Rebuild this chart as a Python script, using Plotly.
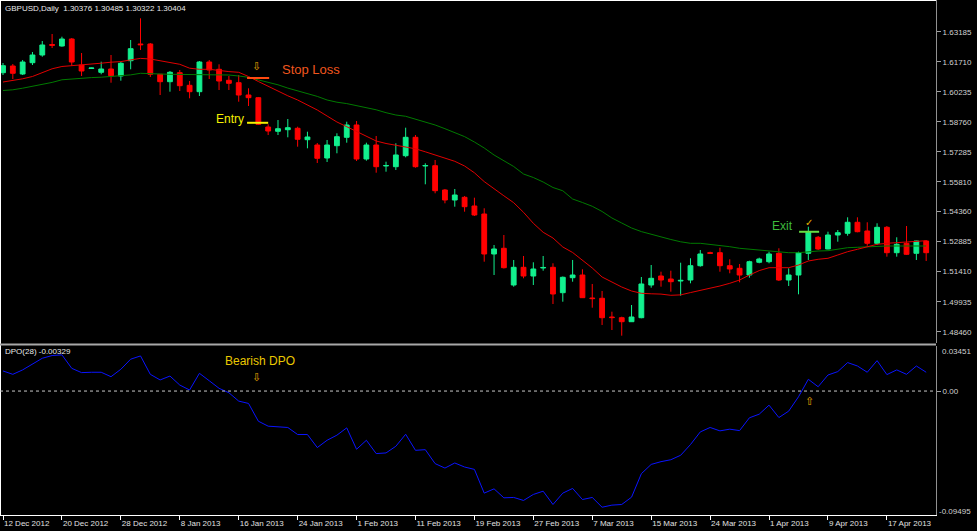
import plotly.graph_objects as go

# ---------------- data ----------------
bars = list(range(95))

open_ = [1.61173, 1.61502, 1.61109, 1.61664, 1.62042, 1.62557, 1.62484, 1.62827, 1.61551, 1.61379,
         1.61193, 1.61355, 1.61011, 1.61762, 1.62582, 1.62582, 1.61095, 1.60732, 1.61173, 1.60555,
         1.60241, 1.61698, 1.61340, 1.60800, 1.60682, 1.60079, 1.59947, 1.58508, 1.58297, 1.58376,
         1.58445, 1.57885, 1.57625, 1.56987, 1.57591, 1.58003, 1.58607, 1.56938, 1.57625, 1.56595,
         1.56560, 1.57100, 1.58003, 1.56595, 1.56609, 1.55417, 1.54926, 1.55058, 1.54632, 1.54239,
         1.52276, 1.52556, 1.50754, 1.51623, 1.51196, 1.51589, 1.51623, 1.50377, 1.51113, 1.51245,
         1.50117, 1.50102, 1.49184, 1.49150, 1.48953, 1.49150, 1.50754, 1.51196, 1.51049, 1.50951,
         1.51000, 1.51702, 1.52340, 1.52340, 1.51702, 1.51574, 1.51245, 1.51869, 1.51898, 1.52310,
         1.51000, 1.51245, 1.52310, 1.53096, 1.52522, 1.53208, 1.53292, 1.53832, 1.53405, 1.52801,
         1.53586, 1.52340, 1.52801, 1.52310, 1.52914]

high = [1.61649, 1.61600, 1.61797, 1.62189, 1.62729, 1.63072, 1.62940, 1.62876, 1.62140, 1.61420,
        1.61713, 1.62042, 1.61713, 1.62778, 1.63843, 1.62631, 1.61109, 1.61257, 1.61306, 1.60766,
        1.61747, 1.61797, 1.61585, 1.61011, 1.61060, 1.60408, 1.59981, 1.58641, 1.58851, 1.58901,
        1.58523, 1.58278, 1.57723, 1.57871, 1.58199, 1.58769, 1.58803, 1.57738, 1.58067, 1.56806,
        1.57708, 1.58474, 1.58116, 1.56727, 1.56889, 1.55466, 1.55466, 1.55122, 1.55039, 1.54519,
        1.52718, 1.53208, 1.51982, 1.52178, 1.51869, 1.52178, 1.51820, 1.51172, 1.51982, 1.51525,
        1.50804, 1.50461, 1.49444, 1.49199, 1.49773, 1.51147, 1.51736, 1.51407, 1.51456, 1.51849,
        1.52065, 1.52472, 1.52389, 1.52585, 1.52016, 1.51785, 1.51947, 1.52095, 1.52389, 1.52556,
        1.51574, 1.52389, 1.53616, 1.53160, 1.53370, 1.53454, 1.54077, 1.54077, 1.53832, 1.53783,
        1.53650, 1.53096, 1.53650, 1.52929, 1.52963]

low = [1.61060, 1.60864, 1.61060, 1.61551, 1.61958, 1.62385, 1.62449, 1.61502, 1.61011, 1.61370,
       1.61095, 1.60682, 1.60781, 1.61340, 1.62287, 1.60962, 1.60079, 1.60241, 1.60275, 1.59917,
       1.60030, 1.60864, 1.60324, 1.60324, 1.59750, 1.59539, 1.58607, 1.58116, 1.58116, 1.58003,
       1.57542, 1.57463, 1.56742, 1.56791, 1.57218, 1.57738, 1.56840, 1.56855, 1.56266, 1.56315,
       1.56399, 1.57021, 1.56511, 1.55697, 1.55255, 1.54764, 1.54597, 1.54352, 1.54141, 1.51898,
       1.51245, 1.51564, 1.50671, 1.51083, 1.50754, 1.51456, 1.49822, 1.49935, 1.50917, 1.50117,
       1.49640, 1.48792, 1.48546, 1.48267, 1.48939, 1.49121, 1.50622, 1.50671, 1.50426, 1.50230,
       1.50838, 1.51653, 1.52276, 1.51407, 1.51329, 1.50887, 1.51113, 1.51820, 1.51820, 1.50951,
       1.50706, 1.50298, 1.51982, 1.52472, 1.52507, 1.52880, 1.53174, 1.53341, 1.52683, 1.52718,
       1.52144, 1.52144, 1.52227, 1.51982, 1.51933]

close = [1.61517, 1.61144, 1.61698, 1.62042, 1.62533, 1.62518, 1.62827, 1.61698, 1.61257, 1.61404,
         1.61355, 1.61026, 1.61635, 1.62351, 1.62547, 1.61095, 1.60732, 1.61193, 1.60535, 1.60241,
         1.61698, 1.61306, 1.60766, 1.60653, 1.60079, 1.59947, 1.58641, 1.58312, 1.58425, 1.58474,
         1.57905, 1.58018, 1.56972, 1.57625, 1.58033, 1.58607, 1.56938, 1.57625, 1.56560, 1.56619,
         1.57135, 1.58003, 1.56560, 1.56619, 1.55382, 1.54926, 1.55171, 1.54597, 1.54190, 1.52276,
         1.52522, 1.51604, 1.51623, 1.51196, 1.51540, 1.51614, 1.50313, 1.51133, 1.51245, 1.50132,
         1.50087, 1.49150, 1.49155, 1.48953, 1.49184, 1.50804, 1.51083, 1.51000, 1.50917, 1.50981,
         1.51702, 1.52276, 1.52310, 1.51702, 1.51540, 1.51245, 1.51898, 1.52031, 1.52276, 1.51000,
         1.51245, 1.52340, 1.53341, 1.52522, 1.53208, 1.53321, 1.53832, 1.53370, 1.52801, 1.53586,
         1.52340, 1.52752, 1.52261, 1.52914, 1.52340]

ma_fast = [1.60717, 1.60781, 1.60874, 1.60987, 1.61183, 1.61365, 1.61478, 1.61512, 1.61556, 1.61590,
           1.61640, 1.61689, 1.61718, 1.61801, 1.61875, 1.61846, 1.61762, 1.61664, 1.61586, 1.61394,
           1.61340, 1.61340, 1.61276, 1.61227, 1.61193, 1.60987, 1.60741, 1.60496, 1.60285, 1.60040,
           1.59834, 1.59588, 1.59343, 1.59048, 1.58754, 1.58523, 1.58283, 1.58052, 1.57821, 1.57699,
           1.57610, 1.57542, 1.57439, 1.57291, 1.57134, 1.56972, 1.56825, 1.56595, 1.56261, 1.55829,
           1.55466, 1.55132, 1.54794, 1.54322, 1.53783, 1.53341, 1.53061, 1.52620, 1.52350, 1.51982,
           1.51589, 1.51147, 1.50902, 1.50656, 1.50460, 1.50347, 1.50323, 1.50308, 1.50249, 1.50269,
           1.50382, 1.50480, 1.50593, 1.50706, 1.50838, 1.51000, 1.51241, 1.51461, 1.51604, 1.51604,
           1.51604, 1.51736, 1.51932, 1.52016, 1.52065, 1.52227, 1.52389, 1.52507, 1.52639, 1.52752,
           1.52801, 1.52831, 1.52850, 1.52914, 1.52929]

ma_slow = [1.60300, 1.60334, 1.60413, 1.60496, 1.60579, 1.60697, 1.60825, 1.60869, 1.60903, 1.60933,
           1.60952, 1.60982, 1.61016, 1.61065, 1.61144, 1.61144, 1.61109, 1.61095, 1.61095, 1.61060,
           1.61060, 1.61090, 1.61095, 1.61060, 1.61011, 1.60948, 1.60820, 1.60707, 1.60579, 1.60418,
           1.60285, 1.60167, 1.60010, 1.59834, 1.59726, 1.59657, 1.59554, 1.59465, 1.59353, 1.59210,
           1.59097, 1.59034, 1.58901, 1.58754, 1.58607, 1.58425, 1.58239, 1.58037, 1.57772, 1.57478,
           1.57134, 1.56840, 1.56570, 1.56202, 1.56030, 1.55809, 1.55539, 1.55378, 1.54975, 1.54803,
           1.54617, 1.54362, 1.54043, 1.53797, 1.53552, 1.53375, 1.53233, 1.53125, 1.52988, 1.52875,
           1.52801, 1.52801, 1.52752, 1.52683, 1.52634, 1.52556, 1.52507, 1.52472, 1.52438, 1.52359,
           1.52340, 1.52340, 1.52389, 1.52423, 1.52438, 1.52507, 1.52585, 1.52605, 1.52634, 1.52669,
           1.52669, 1.52669, 1.52669, 1.52669, 1.52669]

dpo = [0.0154, 0.0128, 0.0162, 0.0205, 0.0251, 0.0272, 0.0277, 0.0174, 0.0141, 0.0144,
       0.0144, 0.0110, 0.0167, 0.0244, 0.0269, 0.0128, 0.0085, 0.0115, 0.0046, 0.0008,
       0.0136, 0.0079, 0.0021, -0.0013, -0.0077, -0.0095, -0.0231, -0.0269, -0.0274, -0.0279,
       -0.0333, -0.0333, -0.0433, -0.0377, -0.0338, -0.0282, -0.0446, -0.0377, -0.0479, -0.0474,
       -0.0423, -0.0331, -0.0454, -0.0449, -0.0556, -0.0590, -0.0551, -0.0582, -0.0600, -0.0782,
       -0.0749, -0.0818, -0.0815, -0.0838, -0.0792, -0.0767, -0.0869, -0.0782, -0.0746, -0.0831,
       -0.0815, -0.0890, -0.0874, -0.0869, -0.0813, -0.0633, -0.0562, -0.0541, -0.0526, -0.0492,
       -0.0410, -0.0313, -0.0279, -0.0305, -0.0292, -0.0303, -0.0205, -0.0177, -0.0108, -0.0203,
       -0.0154, -0.0044, 0.0090, 0.0033, 0.0123, 0.0149, 0.0218, 0.0192, 0.0144, 0.0233,
       0.0126, 0.0162, 0.0128, 0.0192, 0.0144]

date_tick_bars = [0, 6, 12, 18, 24, 30, 36, 42, 48, 54, 60, 66, 72, 78, 84, 90]
date_tick_labels = ["12 Dec 2012", "20 Dec 2012", "28 Dec 2012", "8 Jan 2013", "16 Jan 2013",
                    "24 Jan 2013", "1 Feb 2013", "11 Feb 2013", "19 Feb 2013", "27 Feb 2013",
                    "7 Mar 2013", "15 Mar 2013", "24 Mar 2013", "1 Apr 2013", "9 Apr 2013",
                    "17 Apr 2013"]
price_ticks = [1.48460, 1.49935, 1.51410, 1.52885, 1.54360, 1.55810, 1.57285, 1.58760,
               1.60235, 1.61710, 1.63185]
price_tick_labels = ["1.48460", "1.49935", "1.51410", "1.52885", "1.54360", "1.55810",
                     "1.57285", "1.58760", "1.60235", "1.61710", "1.63185"]
dpo_top, dpo_bottom = 0.03451, -0.09495

# trade markers
stop_level = 1.60913
entry_level = 1.58715
exit_level = 1.53366
entry_bars = [24.85, 27.0]
exit_bars = [81.06, 83.1]

header_text = "GBPUSD,Daily  1.30376 1.30485 1.30322 1.30404"
dpo_label = "DPO(28) -0.00329"

# ---------------- figure ----------------
FONT = "Liberation Sans, Arial, sans-serif"
BULL = "#12F08E"
BEAR = "#FF0000"

fig = go.Figure()

fig.add_trace(go.Candlestick(
    x=bars, open=open_, high=high, low=low, close=close,
    increasing=dict(line=dict(color=BULL, width=1), fillcolor=BULL),
    decreasing=dict(line=dict(color=BEAR, width=1), fillcolor=BEAR),
    whiskerwidth=0, showlegend=False, xaxis="x", yaxis="y"))

fig.add_trace(go.Scatter(x=bars, y=ma_slow, mode="lines",
                         line=dict(color="#007A00", width=1), showlegend=False,
                         xaxis="x", yaxis="y"))
fig.add_trace(go.Scatter(x=bars, y=ma_fast, mode="lines",
                         line=dict(color="#E00000", width=1), showlegend=False,
                         xaxis="x", yaxis="y"))
fig.add_trace(go.Scatter(x=bars, y=dpo, mode="lines",
                         line=dict(color="#0A14FF", width=1), showlegend=False,
                         xaxis="x", yaxis="y2"))

W, H = 977, 531
L, R, T, B = 0, 41, 0, 16
ph = H - T - B  # 515

main_bottom = (ph - 343) / ph
dpo_topfrac = (ph - 346) / ph

fig.update_layout(
    width=W, height=H,
    margin=dict(l=L, r=R, t=T, b=B, pad=0),
    paper_bgcolor="#000000", plot_bgcolor="#000000",
    showlegend=False,
    font=dict(family=FONT, size=8, color="#D8D8D8"),
    xaxis=dict(
        domain=[0, 1], anchor="y2", range=[-0.3055, 95.0],
        tickmode="array", tickvals=date_tick_bars, ticktext=date_tick_labels,
        ticks="outside", ticklen=4, tickcolor="#FFFFFF", tickwidth=1,
        ticklabelposition="outside right",
        tickfont=dict(family=FONT, size=8, color="#E0E0E0"),
        showline=True, linecolor="#FFFFFF", linewidth=1,
        showgrid=False, zeroline=False, rangeslider=dict(visible=False),
        fixedrange=True),
    yaxis=dict(
        domain=[main_bottom, 1], anchor="x", side="right",
        range=[1.47908, 1.64741],
        tickmode="array", tickvals=price_ticks, ticktext=price_tick_labels,
        ticks="outside", ticklen=4, tickcolor="#A0A0A0",
        tickfont=dict(family=FONT, size=8, color="#D0D0D0"),
        showline=True, linecolor="#909090", linewidth=1,
        showgrid=False, zeroline=False),
    yaxis2=dict(
        domain=[0, dpo_topfrac], anchor="x", side="right",
        range=[dpo_bottom, dpo_top],
        tickmode="array", tickvals=[0], ticktext=["0.00"],
        ticks="outside", ticklen=4, tickcolor="#A0A0A0",
        tickfont=dict(family=FONT, size=8, color="#D0D0D0"),
        showline=True, linecolor="#909090", linewidth=1,
        showgrid=False, zeroline=False),
)

shapes = [
    # frame: top and left white borders
    dict(type="line", xref="paper", yref="paper", x0=0, x1=1, y0=1, y1=1,
         line=dict(color="#FFFFFF", width=2)),
    dict(type="line", xref="paper", yref="paper", x0=0, x1=0, y0=0, y1=1,
         line=dict(color="#FFFFFF", width=2)),
    # panel separator
    dict(type="line", xref="paper", yref="paper", x0=0, x1=1,
         y0=(ph - 344.5) / ph, y1=(ph - 344.5) / ph,
         line=dict(color="#A8A8A8", width=2)),
    # DPO zero level
    dict(type="line", xref="paper", yref="y2", x0=0, x1=1, y0=0, y1=0,
         line=dict(color="#C8C8C8", width=1, dash="dot")),
    # trade levels
    dict(type="line", xref="x", yref="y", x0=entry_bars[0], x1=entry_bars[1] + 0.1,
         y0=stop_level, y1=stop_level, line=dict(color="#FF4A10", width=2)),
    dict(type="line", xref="x", yref="y", x0=entry_bars[0], x1=entry_bars[1],
         y0=entry_level, y1=entry_level, line=dict(color="#F5F000", width=2)),
    dict(type="line", xref="x", yref="y", x0=exit_bars[0], x1=exit_bars[1],
         y0=exit_level, y1=exit_level, line=dict(color="#66DD44", width=2)),
]
fig.update_layout(shapes=shapes)

ann = [
    dict(text=header_text, xref="paper", yref="paper", x=0, y=1, xanchor="left",
         yanchor="top", xshift=3, yshift=-2, showarrow=False,
         font=dict(family=FONT, size=8, color="#E8E8E8")),
    dict(text="Stop Loss", xref="x", yref="y", x=28.2, y=1.61355, xanchor="left",
         yanchor="middle", showarrow=False, font=dict(family=FONT, size=13, color="#F0561E")),
    dict(text="Entry", xref="x", yref="y", x=21.5, y=1.58901, xanchor="left",
         yanchor="middle", showarrow=False, font=dict(family=FONT, size=12, color="#F5F000")),
    dict(text="Exit", xref="x", yref="y", x=78.1, y=1.53650, xanchor="left",
         yanchor="middle", showarrow=False, font=dict(family=FONT, size=12, color="#3DBB3D")),
    dict(text="⇩", xref="x", yref="y", x=25.8, y=1.61502, xanchor="center",
         yanchor="middle", showarrow=False, font=dict(family="DejaVu Sans", size=11, color="#E0A000")),
    dict(text="✓", xref="x", yref="y", x=82.1, y=1.53846, xanchor="center",
         yanchor="middle", showarrow=False, font=dict(family="DejaVu Sans", size=10, color="#E8B000")),
    dict(text="Bearish DPO", xref="x", yref="y2", x=22.35, y=0.0231, xanchor="left",
         yanchor="middle", showarrow=False, font=dict(family=FONT, size=12, color="#EAC800")),
    dict(text="⇩", xref="x", yref="y2", x=25.8, y=0.0104, xanchor="center",
         yanchor="middle", showarrow=False, font=dict(family="DejaVu Sans", size=11, color="#E0A000")),
    dict(text="⇧", xref="x", yref="y2", x=82.1, y=-0.0081, xanchor="center",
         yanchor="middle", showarrow=False, font=dict(family="DejaVu Sans", size=11, color="#E0A000")),
    dict(text=dpo_label, xref="paper", yref="y2", x=0, y=0.0300, xanchor="left",
         yanchor="middle", xshift=3, showarrow=False,
         font=dict(family=FONT, size=8, color="#E8E8E8")),
    dict(text=f"{dpo_top:.5f}", xref="paper", yref="y2", x=1, y=dpo_top, xanchor="left",
         yanchor="middle", xshift=4, yshift=-5, showarrow=False,
         font=dict(family=FONT, size=8, color="#D0D0D0")),
    dict(text=f"{dpo_bottom:.5f}", xref="paper", yref="y2", x=1, y=dpo_bottom, xanchor="left",
         yanchor="middle", xshift=1, yshift=4, showarrow=False,
         font=dict(family=FONT, size=8, color="#D0D0D0")),
]
fig.update_layout(annotations=ann)

fig.write_html("out.html")
